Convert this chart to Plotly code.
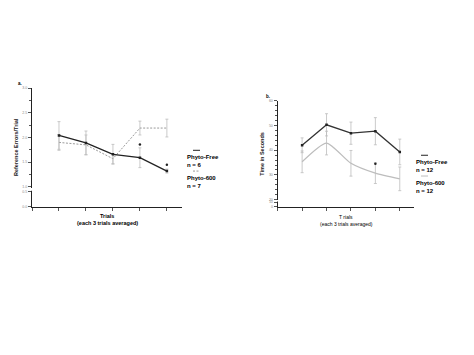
import plotly.graph_objects as go
import numpy as np

# ---------------- data ----------------
trials = [1, 2, 3, 4, 5]

# panel a: Reference Errors/Trial
a_free = [2.04, 1.89, 1.66, 1.59, 1.32]
a_free_err = [0.28, 0.24, 0.20, 0.20, 0.04]
a_600 = [1.90, 1.85, 1.57, 2.19, 2.19]
a_600_err = [0.16, 0.20, 0.10, 0.14, 0.18]
a_star_x = [4, 5]
a_star_y = [1.86, 1.45]
a_tickvals = [0.6, 0.9, 1.0, 1.5, 2.0, 2.5, 3.0]
a_ticktext = ["0.0", "0.5", "1.0", "1.5", "2.0", "2.5", "3.0"]

# panel b: Time in Seconds
b_free = [42.0, 50.3, 46.9, 47.7, 39.3]
b_free_err = [3.0, 4.5, 4.5, 5.5, 5.2]
b_600 = [35.3, 42.9, 34.7, 30.7, 28.4]
b_600_err = [4.4, 4.8, 5.2, 4.2, 4.8]
b_star_x = [4]
b_star_y = [34.5]
b_tickvals = [17, 19.0, 20, 30, 40, 50, 60]
b_ticktext = ["0", "10", "20", "30", "40", "50", "60"]
x_tickvals = [0, 1, 2, 3, 4, 5]

GRAY = "#9a9a9a"
LIGHT = "#bdbdbd"
BLACK = "#222222"

fig = go.Figure()

def err(vals, color):
    return dict(type="data", array=vals, visible=True, color=color, thickness=0.8, width=1.5)

# panel a traces
fig.add_trace(go.Scatter(x=trials, y=a_600, mode="lines", line=dict(color=GRAY, width=1, dash="2px,1.5px"),
                         error_y=err(a_600_err, LIGHT), xaxis="x", yaxis="y", showlegend=False))
fig.add_trace(go.Scatter(x=trials, y=a_free, mode="lines+markers", line=dict(color=BLACK, width=1.3),
                         marker=dict(size=2.5, symbol="square", color=BLACK),
                         error_y=err(a_free_err, LIGHT), xaxis="x", yaxis="y", showlegend=False))
fig.add_trace(go.Scatter(x=a_star_x, y=a_star_y, mode="markers", marker=dict(size=2.5, color=BLACK),
                         xaxis="x", yaxis="y", showlegend=False))

# panel b traces
fig.add_trace(go.Scatter(x=trials, y=b_600, mode="lines",
                         line=dict(color=LIGHT, width=1.3, shape="spline", smoothing=0.6),
                         error_y=err(b_600_err, LIGHT), xaxis="x2", yaxis="y2", showlegend=False))
fig.add_trace(go.Scatter(x=trials, y=b_free, mode="lines+markers", line=dict(color="#333333", width=1.3),
                         marker=dict(size=2.5, symbol="square", color=BLACK),
                         error_y=err(b_free_err, LIGHT), xaxis="x2", yaxis="y2", showlegend=False))
fig.add_trace(go.Scatter(x=b_star_x, y=b_star_y, mode="markers", marker=dict(size=2.5, color=BLACK),
                         xaxis="x2", yaxis="y2", showlegend=False))

W, H = 474, 355
def px_x(p): return p / W
def px_y(p): return 1 - p / H

tickfont = dict(size=3.6, color="#888888", family="Arial")
common_x = dict(showline=True, linecolor=BLACK, linewidth=1.2, ticks="outside", ticklen=3,
                tickcolor="#555555", tickwidth=0.8, tickmode="array", tickvals=x_tickvals,
                ticktext=[""] * 6, showgrid=False, zeroline=False)
common_y = dict(showline=True, linecolor=BLACK, linewidth=1.2, ticks="outside", ticklen=3,
                tickcolor="#555555", tickwidth=0.8, tickmode="array", tickfont=tickfont,
                showgrid=False, zeroline=False)

fig.update_layout(
    width=W, height=H, margin=dict(l=0, r=0, t=0, b=0),
    paper_bgcolor="white", plot_bgcolor="white",
    font=dict(family="Arial", color=BLACK),
    xaxis=dict(domain=[px_x(32), px_x(182)], range=[0, 5.56], anchor="y", **common_x),
    yaxis=dict(domain=[px_y(207), px_y(87)], range=[0.6, 3.0], anchor="x",
               tickvals=a_tickvals, ticktext=a_ticktext,
               minor=dict(tickvals=list(np.arange(1.25, 3.0, 0.5)), ticks="outside", ticklen=2,
                          tickcolor="#555555"),
               title=dict(text="<b>Reference Errors/Trial</b>", font=dict(size=5.5), standoff=3),
               **common_y),
    xaxis2=dict(domain=[px_x(277.7), px_x(413.7)], range=[0, 5.57], anchor="y2", **common_x),
    yaxis2=dict(domain=[px_y(207.3), px_y(100)], range=[17, 60], anchor="x2",
                tickvals=b_tickvals, ticktext=b_ticktext,
                minor=dict(tickvals=[v for v in range(20, 61, 2) if v % 10 != 0], ticks="outside",
                           ticklen=2, tickcolor="#555555"),
                title=dict(text="<b>Time in Seconds</b>", font=dict(size=5.5), standoff=3),
                **common_y),
)

# axis break marks
for xref, yref, y0, y1 in [("x", "y", 0.92, 0.98), ("x2", "y2", 19.2, 19.8)]:
    fig.add_shape(type="rect", xref=xref + " domain", yref=yref, x0=-0.02, x1=0.02, y0=y0, y1=y1,
                  fillcolor="white", line=dict(width=0), layer="above")

ann = []
def A(x, y, text, size=6, bold=True, xanchor="left", color="#000000"):
    t = f"<b>{text}</b>" if bold else text
    ann.append(dict(x=px_x(x), y=px_y(y), xref="paper", yref="paper", text=t, showarrow=False,
                    xanchor=xanchor, yanchor="middle", font=dict(size=size, color=color, family="Arial")))

A(16, 82, "a.", size=4.5)
A(264, 96, "b.", size=4.5)
A(107, 216, "Trials", size=5.5, xanchor="center")
A(107, 224, "(each 3 trials averaged)", size=5.5, xanchor="center")
A(346, 217, "T rials", size=5, bold=False, xanchor="center")
A(346, 225, "(each 3 trials averaged)", size=5, bold=False, xanchor="center")
A(185, 157, "Phyto-Free", size=6)
A(185, 165, "n = 6", size=6)
A(185, 178, "Phyto-600", size=6)
A(185, 186, "n = 7", size=6)
A(414, 162, "Phyto-Free", size=6)
A(414, 170, "n = 12", size=6)
A(414, 183, "Phyto-600", size=6)
A(414, 191, "n = 12", size=6)
fig.update_layout(annotations=ann)

# legend line samples
for x0, y, col, dash in [(193, 150, BLACK, "solid"), (193, 171, GRAY, "2px,1.5px"),
                         (421, 155, BLACK, "solid"), (421, 176, LIGHT, "solid")]:
    fig.add_shape(type="line", xref="paper", yref="paper", x0=px_x(x0), x1=px_x(x0 + 7),
                  y0=px_y(y), y1=px_y(y), line=dict(color=col, width=1, dash=dash))

fig.write_html("out.html", config={"displayModeBar": False},
               post_script="document.body.style.margin='0';document.body.style.overflow='hidden';")
